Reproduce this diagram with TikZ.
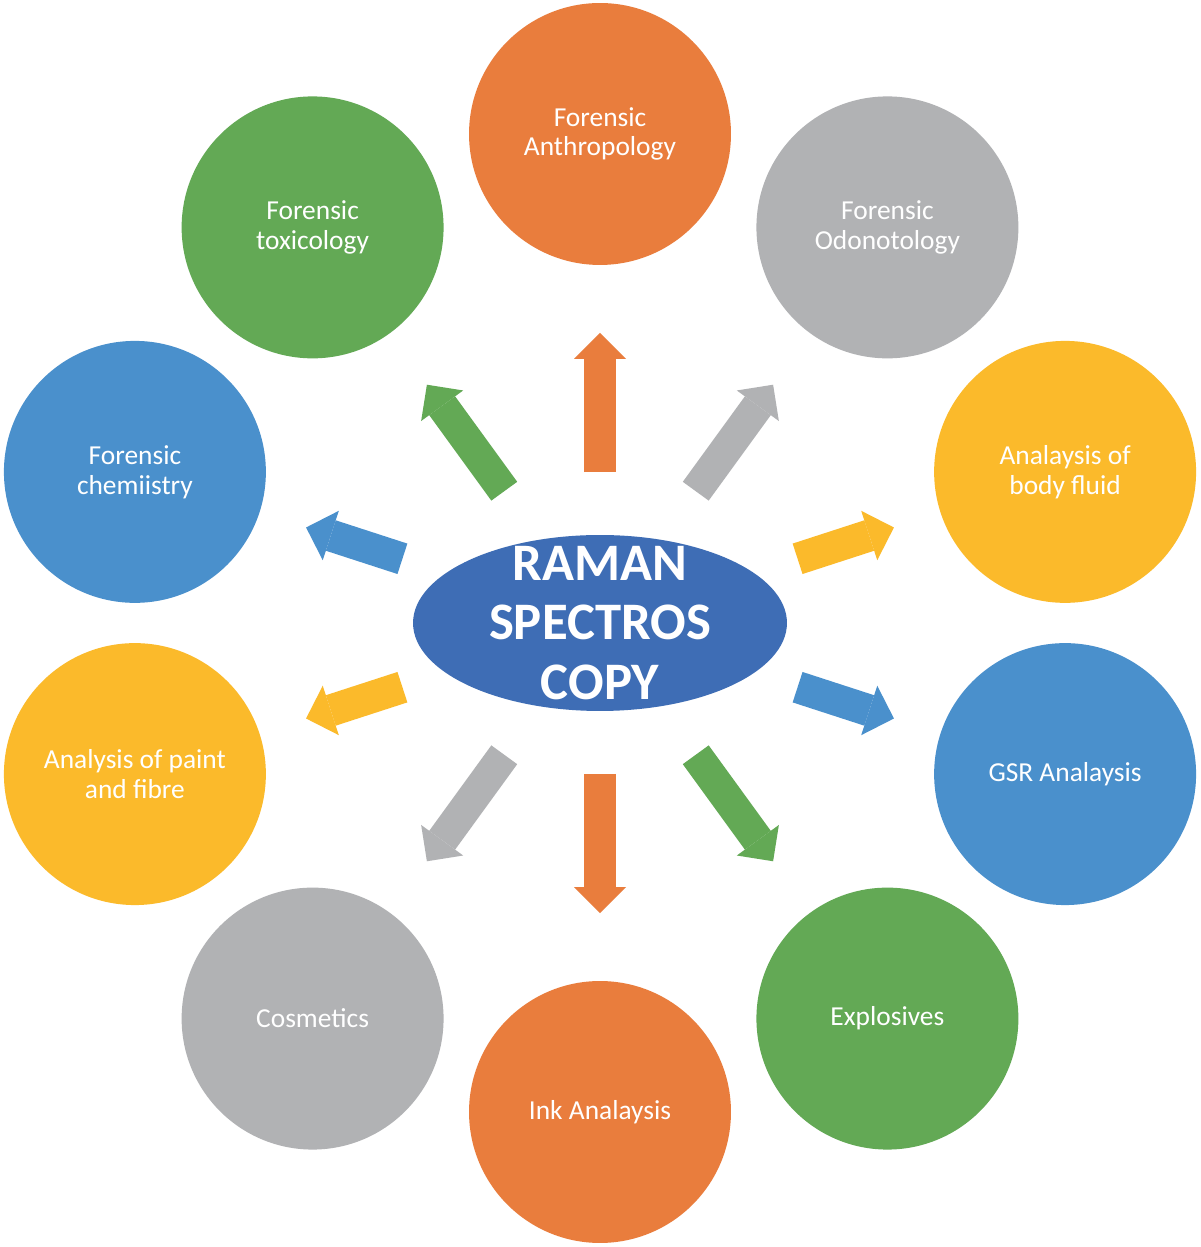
\documentclass[tikz,border=0pt]{standalone}
\usepackage{fontspec}
\setmainfont{Carlito}
\usepackage{xcolor}
\usepackage{tikz}
\usetikzlibrary{arrows.meta,shapes.geometric}
\definecolor{ramanblue}{HTML}{3E6DB5}
\definecolor{anthrofill}{HTML}{E97D3D}
\definecolor{greyfill}{HTML}{B1B2B4}
\definecolor{goldfill}{HTML}{FBBA2B}
\definecolor{skyfill}{HTML}{4A90CC}
\definecolor{leaffill}{HTML}{63A955}
\tikzset{
  bubble/.style={
    circle,
    minimum size=5.24cm,
    inner sep=0pt,
    outer sep=0pt,
    align=center,
    text=white,
    font=\fontsize{15.6}{17}\selectfont
  },
  core/.style={ellipse, minimum width=7.48cm, minimum height=3.52cm, inner sep=0pt, outer sep=0pt, fill=ramanblue},
  coreLabel/.style={text=white, align=center, font=\bfseries\fontsize{30}{34}\selectfont},
  fat/.style={line width=0.64cm, -{Triangle[width=1.04cm,length=0.52cm,line width=0pt]}},
  axial/.style={fat, shorten <=1.26cm, shorten >=1.36cm},
  oblique/.style={fat, shorten <=1.2cm, shorten >=1.27cm},
  flat/.style={fat, shorten <=0.92cm, shorten >=0.98cm}
}

\begin{document}
\begin{tikzpicture}[x=0.02cm,y=0.02cm]
\path[use as bounding box] (0,0) rectangle (1200,1247);
\fill[white] (0,0) rectangle (1200,1247);

\node[core] (core) at (600,624) {};
\node[coreLabel] (coreText) at (core.center) {RAMAN\\SPECTROS\\COPY};

% ring of application areas
\node[bubble, fill=anthrofill] (anthro) at (600,1113) {Forensic\\Anthropology};
\node[bubble, fill=greyfill] (odonto) at (887.4,1019.6) {Forensic\\Odonotology};
\node[bubble, fill=goldfill] (fluid) at (1065.1,775.1) {Analaysis of\\body fluid};
\node[bubble, fill=skyfill] (gsr) at (1065.1,472.9) {GSR Analaysis};
\node[bubble, fill=leaffill] (explo) at (887.4,228.4) {Explosives};
\node[bubble, fill=anthrofill] (ink) at (600,135) {Ink Analaysis};
\node[bubble, fill=greyfill] (cosme) at (312.6,228.4) {Cosmetics};
\node[bubble, fill=goldfill] (paint) at (134.9,472.9) {Analysis of paint\\and fibre};
\node[bubble, fill=skyfill] (chem) at (134.9,775.1) {Forensic\\chemiistry};
\node[bubble, fill=leaffill] (toxi) at (312.6,1019.6) {Forensic\\toxicology};

% block arrows out of the centre
\draw[axial, anthrofill] (core) -- (anthro);
\draw[oblique, greyfill] (core) -- (odonto);
\draw[flat, goldfill] (core) -- (fluid);
\draw[flat, skyfill] (core) -- (gsr);
\draw[oblique, leaffill] (core) -- (explo);
\draw[axial, anthrofill] (core) -- (ink);
\draw[oblique, greyfill] (core) -- (cosme);
\draw[flat, goldfill] (core) -- (paint);
\draw[flat, skyfill] (core) -- (chem);
\draw[oblique, leaffill] (core) -- (toxi);
\end{tikzpicture}
\end{document}
